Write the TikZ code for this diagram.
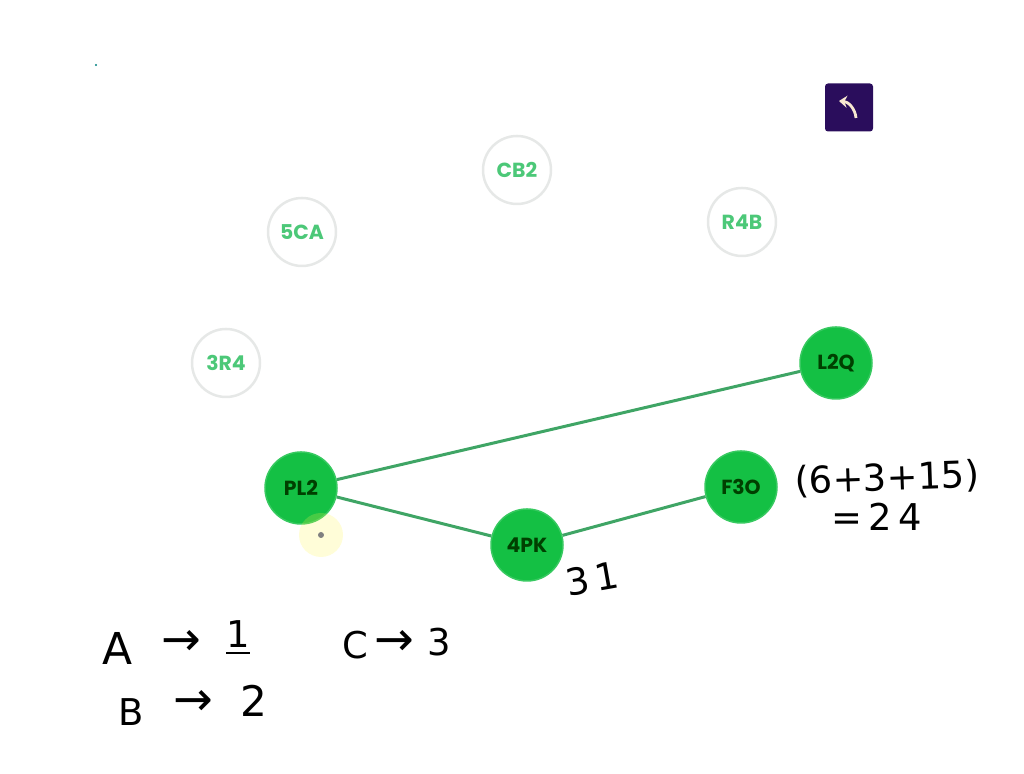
\documentclass[tikz,border=0pt]{standalone}
\usepackage{fontspec}
\setmainfont{Poppins}
\newfontfamily\handfont{DejaVu Sans}
\usepackage{tikz}
\usetikzlibrary{arrows.meta}
\definecolor{nodegreen}{HTML}{14C044}
\definecolor{labelgreen}{HTML}{4CC878}
\definecolor{edgegreen}{HTML}{3FA565}
\definecolor{rimgray}{HTML}{E6E8E7}
\definecolor{btnpurple}{HTML}{2A0D5C}
\definecolor{btncream}{HTML}{F8E8D0}
\tikzset{
  city/.style={circle,draw=rimgray,line width=0.025cm,fill=white,minimum size=0.68cm,inner sep=0pt,
    text=labelgreen,font=\fontsize{5.8}{7}\selectfont\bfseries},
  done/.style={circle,draw=nodegreen!85!white,line width=0.015cm,fill=nodegreen,minimum size=0.72cm,inner sep=0pt,
    text=black!75!green,font=\fontsize{5.8}{7}\selectfont\bfseries},
  link/.style={edgegreen,line width=0.03cm},
  hand/.style={inner sep=0pt,text=black,font=\handfont\fontsize{10.5}{12}\selectfont},
  handarrow/.style={hand,font=\handfont\fontsize{13.5}{14}\selectfont},
}

\begin{document}
\begin{tikzpicture}
\useasboundingbox (0,0) rectangle (10.24,7.74);

\node[city] (cb) at (5.17,6.04) {CB2};
\node[city] (ca) at (3.02,5.42) {5CA};
\node[city] (rb) at (7.42,5.52) {R4B};
\node[city] (rf) at (2.26,4.11) {3R4};

\node[done] (lq) at (8.36,4.11) {L2Q};
\node[done] (pl) at (3.01,2.86) {PL2};
\node[done] (fo) at (7.41,2.87) {F3O};
\node[done] (pk) at (5.27,2.29) {4PK};

\draw[link] (pl) -- (lq);
\draw[link] (pl) -- (pk);
\draw[link] (pk) -- (fo);

% pointer
\fill[yellow!70!white,opacity=0.22] (3.21,2.39) circle (0.22);
\fill[gray] (3.21,2.39) circle (0.03);
\fill[teal] (0.96,7.09) circle (0.012);

% undo button
\node[fill=btnpurple,rounded corners=0.03cm,minimum size=0.48cm,inner sep=0pt] (undo) at (8.49,6.665) {};
\coordinate (undotail) at (8.56,6.56);
\coordinate (undotip) at (8.39,6.73);
\draw[-{Stealth[length=0.08cm,width=0.12cm]},btncream,line width=0.028cm] (undotail) to[out=95,in=-5] (undotip);

% notes
\node[hand,rotate=2] (sum) at (8.87,2.95) {(6+3+15)};
\node[hand] (total) at (8.77,2.57) {=\,2\,4};
\node[hand,rotate=10] (cost) at (5.92,1.95) {3\,1};
\node[hand,font=\handfont\fontsize{12.5}{14}\selectfont] (a) at (1.18,1.26) {A};
\node[handarrow] (aarrow) at (1.81,1.31) {→};
\node[hand] (one) at (2.38,1.36) {\underline{1}};
\node[hand] (c) at (3.55,1.29) {C};
\node[handarrow] (carrow) at (3.94,1.31) {→};
\node[hand] (three) at (4.39,1.32) {3};
\node[hand] (b) at (1.31,0.62) {B};
\node[handarrow] (barrow) at (1.93,0.71) {→};
\node[hand,font=\handfont\fontsize{12}{14}\selectfont] (two) at (2.54,0.73) {2};
\end{tikzpicture}
\end{document}
